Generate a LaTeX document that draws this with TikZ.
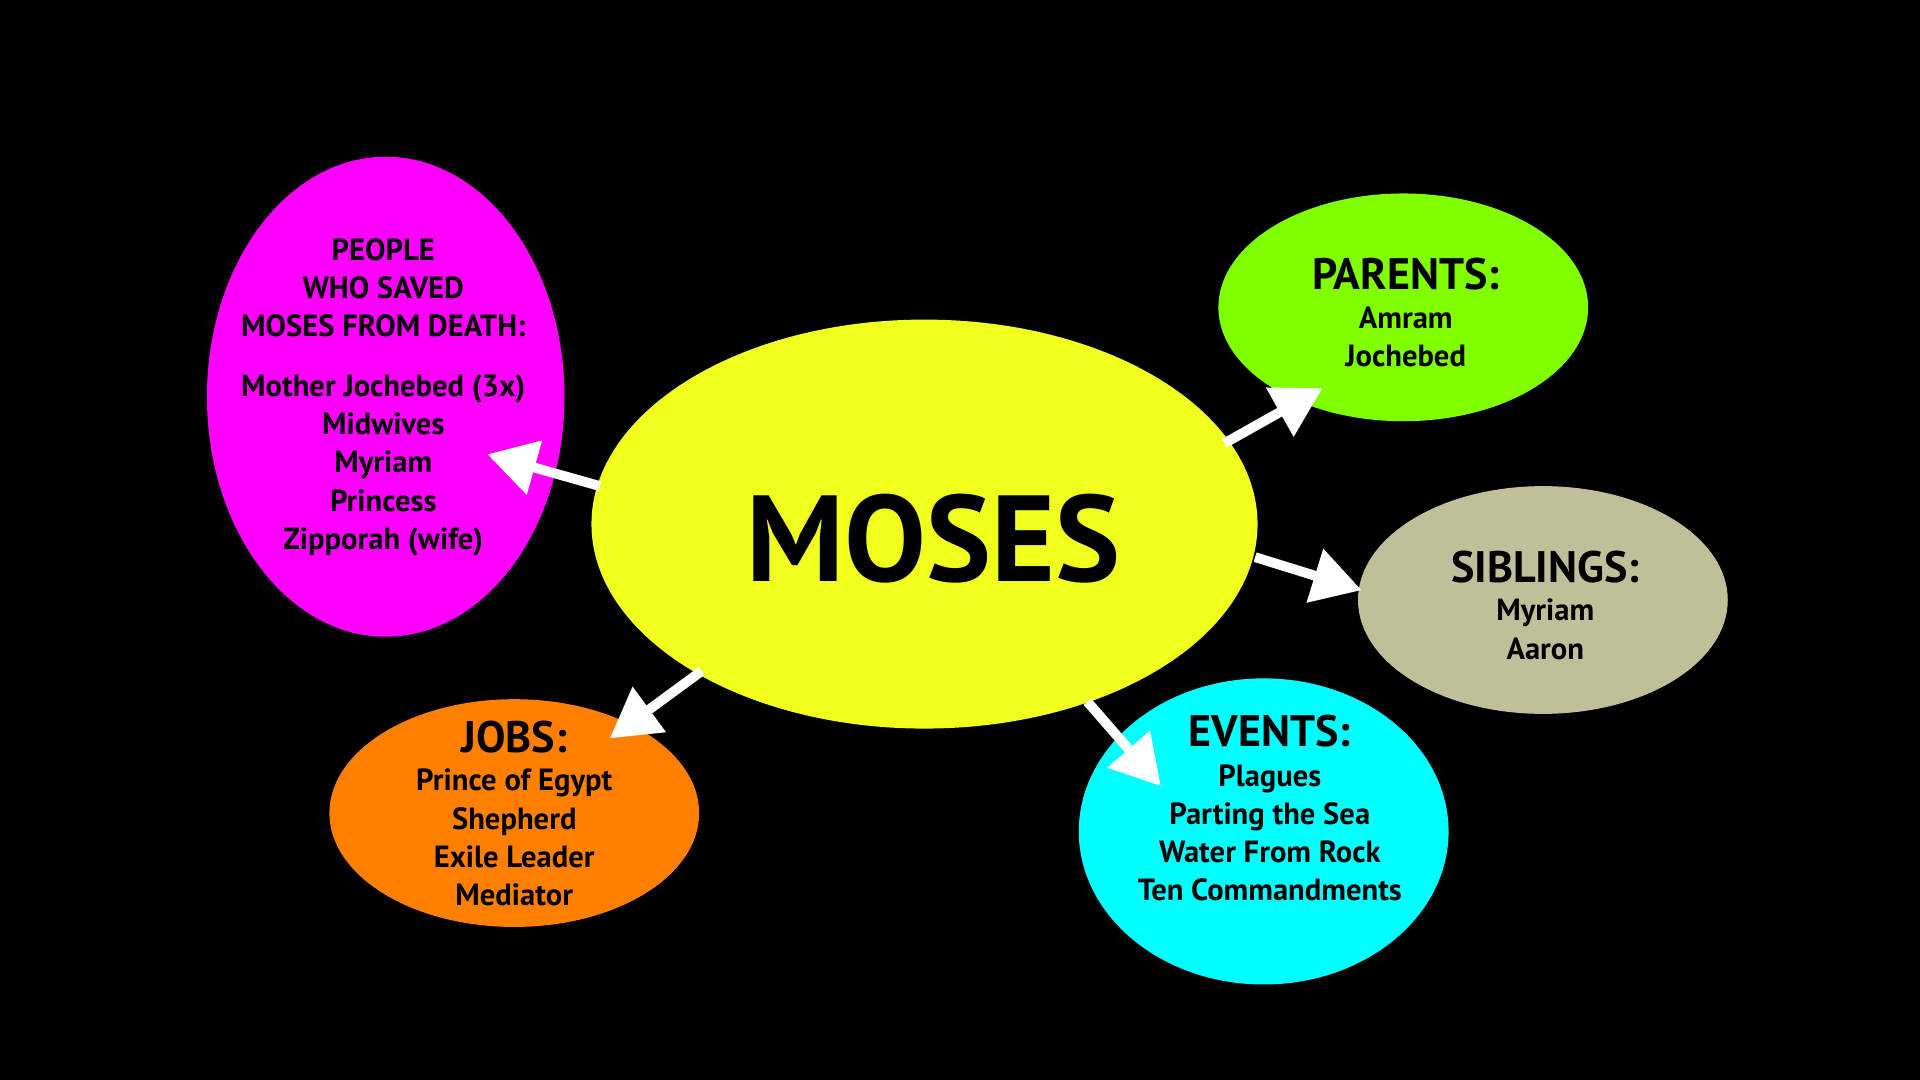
\documentclass[tikz,border=0pt]{standalone}
\usepackage{fontspec}
\setmainfont{PT Sans}
\usetikzlibrary{shapes.geometric,arrows.meta}
\definecolor{cmag}{HTML}{FF00FF}
\definecolor{cyel}{HTML}{F0FF1E}
\definecolor{cgrn}{HTML}{80FF00}
\definecolor{ckhk}{HTML}{BFBF99}
\definecolor{ccya}{HTML}{00FFFF}
\definecolor{corg}{HTML}{FF8000}
\tikzset{
 blob/.style={ellipse,inner sep=0pt,minimum width=#1},
 body/.style={align=center,font=\bfseries\fontsize{12.5}{15.6}\selectfont,text=black},
 ttl/.style={font=\bfseries\fontsize{18}{20}\selectfont,text=black},
 arr/.style={draw=white,line width=4pt,-{Triangle[width=22pt,length=20pt]}}
}
\begin{document}
\begin{tikzpicture}[x=0.5pt,y=-0.5pt]
\fill[black] (0,0) rectangle (1568,882);
\useasboundingbox (0,0) rectangle (1568,882);
\fill[cmag] (315,324) ellipse [x radius=146, y radius=196];
\fill[cgrn] (1146,251) ellipse [x radius=151, y radius=93];
\fill[ckhk] (1260,490) ellipse [x radius=151, y radius=93];
\fill[ccya] (1032,679) ellipse [x radius=151, y radius=125];
\fill[corg] (420,664) ellipse [x radius=151, y radius=93];
\fill[cyel] (755,428) ellipse [x radius=272, y radius=167];
\node[inner sep=0] (moses) at (762,440) {\bfseries\fontsize{50}{50}\selectfont MOSES};
\node[body] (people) at (313,235) {PEOPLE\\WHO SAVED\\MOSES FROM DEATH:};
\node[body] (peoplel) at (313,380) {Mother Jochebed (3x)\\Midwives\\Myriam\\Princess\\Zipporah (wife)};
\node[ttl] (parents) at (1148,224) {PARENTS:};
\node[body] (parentsl) at (1148,275) {Amram\\Jochebed};
\node[ttl] (sib) at (1262,463) {SIBLINGS:};
\node[body] (sibl) at (1262,514) {Myriam\\Aaron};
\node[ttl] (events) at (1037,597) {EVENTS:};
\node[body] (eventsl) at (1037,680) {Plagues\\Parting the Sea\\Water From Rock\\Ten Commandments};
\node[ttl] (jobs) at (420,602) {JOBS:};
\node[body] (jobsl) at (420,684) {Prince of Egypt\\Shepherd\\Exile Leader\\Mediator};
\coordinate (a1s) at (1000,362); \coordinate (a1e) at (1080,317);
\coordinate (a2s) at (1025,455); \coordinate (a2e) at (1112,482);
\coordinate (a3s) at (888,573); \coordinate (a3e) at (948,642);
\coordinate (a4s) at (573,548); \coordinate (a4e) at (498,603);
\coordinate (a5s) at (490,397); \coordinate (a5e) at (398,371);
\draw[arr] (a1s) -- (a1e);
\draw[arr] (a2s) -- (a2e);
\draw[arr] (a3s) -- (a3e);
\draw[arr] (a4s) -- (a4e);
\draw[arr] (a5s) -- (a5e);
\end{tikzpicture}
\end{document}
